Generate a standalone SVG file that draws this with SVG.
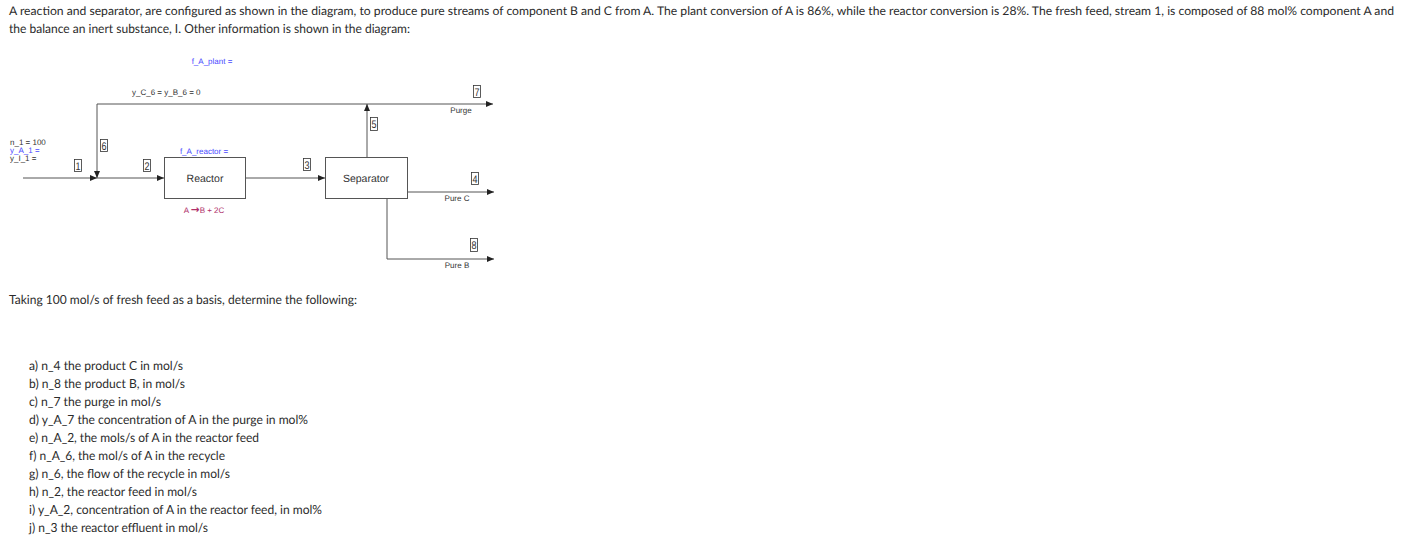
<svg xmlns="http://www.w3.org/2000/svg" width="1404" height="552" viewBox="0 0 1404 552">
<defs>
<style>
text{text-rendering:geometricPrecision}
.body{font-family:Lato,"Open Sans","Liberation Sans",sans-serif;font-size:12.5px;fill:#2b2b2b}
.lbl{font-family:"Liberation Sans",Arial,sans-serif;font-size:8px;fill:#333}
.blue{fill:#4a4aff}
.rx{fill:#b0306a}
.big{font-family:"Liberation Sans",Arial,sans-serif;font-size:10.5px;fill:#333}
.num{font-family:"Liberation Sans",Arial,sans-serif;font-size:11px;fill:#333}
.nbox{fill:#fff;stroke:#333;stroke-width:0.8}
.unit{fill:#fff;stroke:#555;stroke-width:1}
.ln{fill:none;stroke:#555;stroke-width:1}
</style>
<marker id="ah" markerUnits="userSpaceOnUse" markerWidth="7" markerHeight="6" refX="7" refY="3" orient="auto">
<path d="M0,0 L7,3 L0,6 z" fill="#222"/>
</marker>
</defs>
<rect width="1404" height="552" fill="#fff"/>
<g id="intro">
<text class="body" x="9" y="15" font-size="12" style="font-size:12px" textLength="1385" lengthAdjust="spacingAndGlyphs">A reaction and separator, are configured as shown in the diagram, to produce pure streams of component B and C from A.  The plant conversion of A is 86%, while the reactor conversion is 28%.  The fresh feed, stream 1, is composed of 88 mol% component A and</text>
<text class="body" x="9" y="33" textLength="401" lengthAdjust="spacingAndGlyphs">the balance an inert substance, I. Other information is shown in the diagram:</text>
</g>
<g id="connectors">
<path class="ln" d="M23,178 H97" marker-end="url(#ah)"/>
<path class="ln" d="M97,104 V178" marker-end="url(#ah)"/>
<path class="ln" d="M97,104 H493" marker-end="url(#ah)"/>
<path class="ln" d="M367,157 V104" marker-end="url(#ah)"/>
<path class="ln" d="M97,178 H164" marker-end="url(#ah)"/>
<path class="ln" d="M245,178 H325" marker-end="url(#ah)"/>
<path class="ln" d="M407,192 H494" marker-end="url(#ah)"/>
<path class="ln" d="M387,198 V259 H494" marker-end="url(#ah)"/>
</g>
<g id="reactor">
<rect class="unit" x="164.5" y="157.5" width="81" height="41"/>
<text class="big" x="205" y="182" text-anchor="middle">Reactor</text>
<text class="lbl blue" x="204" y="154" text-anchor="middle">f_A_reactor =</text>
<text class="lbl rx" x="204" y="213" text-anchor="middle" font-size="8.5">A <tspan font-weight="bold" font-size="10.5" font-family="DejaVu Sans, sans-serif">→</tspan>B + 2C</text>
</g>
<g id="separator">
<rect class="unit" x="325.5" y="157.5" width="82" height="41"/>
<text class="big" x="366" y="182" text-anchor="middle">Separator</text>
</g>
<g id="feed-info">
<text class="lbl" x="10" y="145">n_1 = 100</text>
<text class="lbl blue" x="10" y="153">y_A_1 =</text>
<text class="lbl" x="10" y="161">y_I_1 =</text>
</g>
<g id="plant-info">
<text class="lbl blue" x="212" y="64" text-anchor="middle">f_A_plant =</text>
<text class="lbl" x="132" y="95">y_C_6 = y_B_6 = 0</text>
</g>
<g id="stream-1"><rect class="nbox" x="74.5" y="159.5" width="7" height="12"/><text class="num" x="78" y="169.5" text-anchor="middle" textLength="5" lengthAdjust="spacingAndGlyphs">1</text></g>
<g id="stream-2"><rect class="nbox" x="143.5" y="159.5" width="7" height="12"/><text class="num" x="147" y="169.5" text-anchor="middle" textLength="5" lengthAdjust="spacingAndGlyphs">2</text></g>
<g id="stream-3"><rect class="nbox" x="303.5" y="158.5" width="7" height="12"/><text class="num" x="307" y="168.5" text-anchor="middle" textLength="5" lengthAdjust="spacingAndGlyphs">3</text></g>
<g id="stream-4"><rect class="nbox" x="471.5" y="172.5" width="7" height="12"/><text class="num" x="475" y="182.5" text-anchor="middle" textLength="5" lengthAdjust="spacingAndGlyphs">4</text>
<text class="lbl" x="457" y="201" text-anchor="middle">Pure C</text></g>
<g id="stream-5"><rect class="nbox" x="370.5" y="117.5" width="7" height="13"/><text class="num" x="374" y="128" text-anchor="middle" textLength="5" lengthAdjust="spacingAndGlyphs">5</text></g>
<g id="stream-6"><rect class="nbox" x="100.5" y="139.5" width="7" height="12"/><text class="num" x="104" y="149.5" text-anchor="middle" textLength="5" lengthAdjust="spacingAndGlyphs">6</text></g>
<g id="stream-7"><rect class="nbox" x="473.5" y="85.5" width="7" height="12"/><text class="num" x="477" y="95.5" text-anchor="middle" textLength="5" lengthAdjust="spacingAndGlyphs">7</text>
<text class="lbl" x="461" y="113" text-anchor="middle">Purge</text></g>
<g id="stream-8"><rect class="nbox" x="470.5" y="238.5" width="7" height="13"/><text class="num" x="474" y="249" text-anchor="middle" textLength="5" lengthAdjust="spacingAndGlyphs">8</text>
<text class="lbl" x="457" y="268" text-anchor="middle">Pure B</text></g>
<g id="questions">
<text class="body" x="9" y="304" textLength="348" lengthAdjust="spacingAndGlyphs">Taking 100 mol/s of fresh feed as a basis, determine the following:</text>
<text class="body" x="29" y="370" textLength="154" lengthAdjust="spacingAndGlyphs">a) n_4 the product C in mol/s</text>
<text class="body" x="29" y="388" textLength="156" lengthAdjust="spacingAndGlyphs">b) n_8 the product B, in mol/s</text>
<text class="body" x="29" y="406" textLength="132" lengthAdjust="spacingAndGlyphs">c) n_7 the purge in mol/s</text>
<text class="body" x="29" y="424" textLength="279" lengthAdjust="spacingAndGlyphs">d) y_A_7 the concentration of A in the purge in mol%</text>
<text class="body" x="29" y="442" textLength="230" lengthAdjust="spacingAndGlyphs">e) n_A_2, the mols/s of A in the reactor feed</text>
<text class="body" x="29" y="460" textLength="196" lengthAdjust="spacingAndGlyphs">f) n_A_6, the mol/s of A in the recycle</text>
<text class="body" x="29" y="478" textLength="201" lengthAdjust="spacingAndGlyphs">g) n_6, the flow of the recycle in mol/s</text>
<text class="body" x="29" y="496" textLength="168" lengthAdjust="spacingAndGlyphs">h) n_2, the reactor feed in mol/s</text>
<text class="body" x="29" y="514" textLength="293" lengthAdjust="spacingAndGlyphs">i) y_A_2, concentration of A in the reactor feed, in mol%</text>
<text class="body" x="29" y="532" textLength="179" lengthAdjust="spacingAndGlyphs">j) n_3 the reactor effluent in mol/s</text>
</g>
</svg>
